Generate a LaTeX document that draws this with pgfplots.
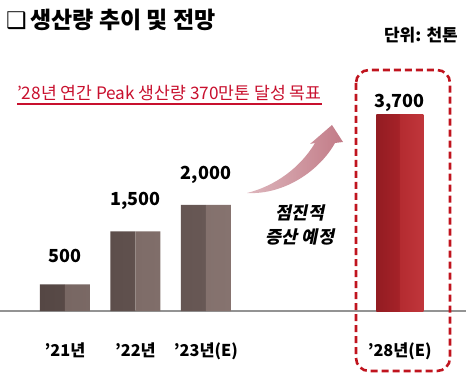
\documentclass[border=0pt]{standalone}
\usepackage{pgfplots}
\pgfplotsset{compat=1.18}
\usepackage{fontspec}
\setmainfont{Noto Sans CJK KR}
\newfontfamily\dejavu{DejaVu Sans}
\newfontfamily\krslant[FakeSlant=0.2]{Noto Sans CJK KR}
\definecolor{brownA}{HTML}{554744}
\definecolor{brownB}{HTML}{685855}
\definecolor{brownC}{HTML}{786763}
\definecolor{brownD}{HTML}{86736F}
\definecolor{redA}{HTML}{931C22}
\definecolor{redB}{HTML}{A52228}
\definecolor{redC}{HTML}{B42B30}
\definecolor{redD}{HTML}{C0363B}
\definecolor{txtred}{HTML}{C8102E}
\definecolor{boxred}{HTML}{C0141E}
\definecolor{arrowc}{HTML}{C27B87}
\begin{document}
\begin{tikzpicture}
\path[use as bounding box] (0,0) rectangle (474pt,378pt);
\begin{axis}[
  at={(0pt,67pt)}, anchor=south west,
  scale only axis, width=466pt, height=246pt,
  xmin=-0.922, xmax=5.69, ymin=0, ymax=4640,
  axis x line*=bottom, hide y axis,
  x axis line style={draw=gray!85, line width=1.3pt},
  xtick={0,1,2,4.75},
  xticklabels={’21년,’22년,’23년(E),’28년(E)},
  xticklabel style={font=\fontsize{16.3}{19}\selectfont\bfseries, yshift=-28pt},
  major tick length=0pt,
  ytick=\empty,
  /pgf/number format/assume math mode=true,
  /pgf/number format/1000 sep={,},
  clip=false,
]
\addplot[ybar, bar width=25pt, bar shift=-12.5pt, draw=none, left color=brownA, right color=brownB,
  nodes near coords, nodes near coords style={font=\fontsize{18}{21}\selectfont\bfseries, text=black, yshift=18pt}]
  coordinates {(0,500) (1,1500) (2,2000)};
\addplot[ybar, bar width=25pt, bar shift=12.5pt, draw=none, left color=brownC, right color=brownD]
  coordinates {(0,500) (1,1500) (2,2000)};
\addplot[ybar, bar width=23.5pt, bar shift=-11.75pt, draw=none, left color=redA, right color=redB,
  nodes near coords, nodes near coords style={font=\fontsize{18}{21}\selectfont\bfseries, text=black, yshift=0pt}]
  coordinates {(4.75,3700)};
\addplot[ybar, bar width=23.5pt, bar shift=11.75pt, draw=none, left color=redC, right color=redD]
  coordinates {(4.75,3700)};
\end{axis}
\begin{scope}[x=1pt,y=-1pt,yshift=378pt]
\node[anchor=west, font=\fontsize{23}{27}\selectfont\bfseries, inner sep=0pt] at (6,20) {{\dejavu ❑}\,생산량 추이 및 전망};
\node[anchor=east, font=\fontsize{17}{20}\selectfont\bfseries, inner sep=0pt] at (458,35) {단위: 천톤};
\node[anchor=west, font=\fontsize{17.2}{20}\selectfont, text=txtred, inner sep=0pt] (t) at (17,93) {’28년 연간 Peak 생산량 370만톤 달성 목표};
\draw[txtred, line width=1.3pt] ([yshift=-4.5pt]t.base west) -- ([yshift=-4.5pt]t.base east);
\draw[boxred, line width=2.6pt, dash pattern=on 7pt off 4pt, rounded corners=13pt] (356,70) rectangle (450,371);
\shade[left color=arrowc!55, right color=arrowc] (247,193) .. controls (285,195) and (320,170) .. (335,143) -- (343,142) -- (332,125) -- (310,144) -- (315,143) .. controls (300,168) and (275,186) .. (247,193) -- cycle;
\node[align=center, font=\krslant\bfseries\fontsize{17.5}{24}\selectfont] at (300,225) {점진적\\증산 예정};
\end{scope}
\end{tikzpicture}
\end{document}
